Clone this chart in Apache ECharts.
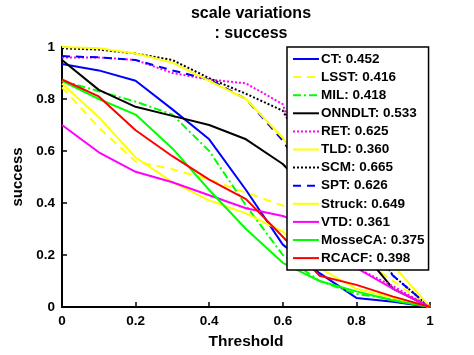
<!DOCTYPE html>
<html>
<head>
<meta charset="utf-8">
<script src="https://cdn.jsdelivr.net/npm/echarts@6/dist/echarts.min.js"></script>
<style>html,body{margin:0;padding:0;background:#fff}#c{width:474px;height:355px}</style>
</head>
<body>
<div id="c"></div>
<script>
const thresholds = [0, 0.1, 0.2, 0.3, 0.4, 0.5, 0.6, 0.7, 0.8, 0.9, 1];
const xTicks = [0, 0.2, 0.4, 0.6, 0.8, 1];
const yTicks = [0, 0.2, 0.4, 0.6, 0.8, 1];
const trackerNames = ['CT: 0.452','LSST: 0.416','MIL: 0.418','ONNDLT: 0.533','RET: 0.625','TLD: 0.360','SCM: 0.665','SPT: 0.626','Struck: 0.649','VTD: 0.361','MosseCA: 0.375','RCACF: 0.398'];
const ct      = [0.935, 0.91, 0.87, 0.76, 0.645, 0.45, 0.24, 0.13, 0.035, 0.02, 0];
const lsst    = [0.845, 0.69, 0.56, 0.53, 0.49, 0.44, 0.39, 0.33, 0.2, 0.1, 0];
const mil     = [0.87, 0.83, 0.79, 0.74, 0.6, 0.39, 0.2, 0.1, 0.05, 0.03, 0];
const onndlt  = [0.95, 0.835, 0.77, 0.735, 0.70, 0.645, 0.55, 0.4, 0.24, 0.07, 0];
const ret     = [0.96, 0.96, 0.95, 0.90, 0.875, 0.86, 0.78, 0.36, 0.15, 0.08, 0];
const tld     = [0.86, 0.73, 0.575, 0.48, 0.41, 0.36, 0.29, 0.15, 0.07, 0.035, 0];
const scm     = [0.995, 0.99, 0.975, 0.95, 0.88, 0.82, 0.755, 0.5, 0.33, 0.12, 0];
const spt     = [0.965, 0.96, 0.95, 0.91, 0.875, 0.80, 0.64, 0.42, 0.25, 0.12, 0];
const struck  = [1.0, 0.995, 0.975, 0.94, 0.87, 0.80, 0.65, 0.45, 0.3, 0.16, 0];
const vtd     = [0.70, 0.595, 0.52, 0.48, 0.43, 0.38, 0.35, 0.3, 0.15, 0.07, 0];
const mosseca = [0.87, 0.80, 0.74, 0.61, 0.45, 0.30, 0.17, 0.1, 0.06, 0.025, 0];
const rcacf   = [0.875, 0.81, 0.68, 0.58, 0.49, 0.415, 0.27, 0.12, 0.085, 0.04, 0];

const seriesValues = [ct, lsst, mil, onndlt, ret, tld, scm, spt, struck, vtd, mosseca, rcacf];
const seriesColors = ['#0000ff','#ffff00','#00ff00','#000000','#ff00ff','#ffff00','#000000','#0000ff','#ffff00','#ff00ff','#00ff00','#ff0000'];
const seriesDash = ['solid',[8,6],[8,3,2,3],'solid',[2,2],'solid',[2,2],[8,6],'solid','solid','solid','solid'];

const FONT = "'Liberation Sans', Arial, sans-serif";

const chart = echarts.init(document.getElementById('c'), null, {renderer: 'canvas'});
const series = trackerNames.map((n, i) => ({
  name: n,
  type: 'line',
  symbol: 'none',
  showSymbol: false,
  data: thresholds.map((t, j) => [t, seriesValues[i][j]]),
  lineStyle: {color: seriesColors[i], width: 2, type: seriesDash[i]},
  itemStyle: {color: seriesColors[i]},
  animation: false
}));

chart.setOption({
  animation: false,
  backgroundColor: '#fff',
  title: {
    text: 'scale variations\n: success',
    left: 246,
    top: -1,
    textAlign: 'center',
    textStyle: {fontFamily: FONT, fontWeight: 'bold', fontSize: 16, lineHeight: 20, color: '#000'}
  },
  grid: {left: 62, right: 44, top: 47, bottom: 46},
  legend: {
    orient: 'vertical',
    left: 287,
    top: 47,
    data: trackerNames,
    backgroundColor: '#fff',
    borderColor: '#000',
    borderWidth: 1.5,
    borderRadius: 0,
    padding: [5, 4, 5, 5],
    itemWidth: 26,
    itemHeight: 14,
    itemGap: 4.1,
    selectedMode: false,
    itemStyle: {opacity: 0, color: 'rgba(0,0,0,0)', borderWidth: 0},
    textStyle: {fontFamily: FONT, fontWeight: 'bold', fontSize: 13.5, lineHeight: 14, color: '#000', padding: [0,0,0,-3]}
  },
  xAxis: {
    type: 'value', min: 0, max: 1, interval: 0.2,
    name: 'Threshold', nameLocation: 'middle', nameGap: 27,
    nameTextStyle: {fontFamily: FONT, fontWeight: 'bold', fontSize: 15.5, color: '#000'},
    axisLine: {show: true, onZero: false, lineStyle: {color: '#000', width: 2}},
    axisTick: {show: true, inside: true, length: 5, lineStyle: {color: '#000', width: 1.5}},
    axisLabel: {fontFamily: FONT, fontWeight: 'bold', fontSize: 13.5, color: '#000', margin: 7,
      formatter: v => String(xTicks.find(t => Math.abs(t - v) < 1e-9) ?? v)},
    splitLine: {show: false}
  },
  yAxis: {
    type: 'value', min: 0, max: 1, interval: 0.2,
    name: 'success', nameLocation: 'middle', nameGap: 34, nameRotate: 90,
    nameTextStyle: {fontFamily: FONT, fontWeight: 'bold', fontSize: 15, color: '#000'},
    axisLine: {show: true, onZero: false, lineStyle: {color: '#000', width: 2}},
    axisTick: {show: true, inside: true, length: 5, lineStyle: {color: '#000', width: 1.5}},
    axisLabel: {fontFamily: FONT, fontWeight: 'bold', fontSize: 13.5, color: '#000', margin: 7,
      formatter: v => String(yTicks.find(t => Math.abs(t - v) < 1e-9) ?? v)},
    splitLine: {show: false}
  },
  series: series
});
</script>
</body>
</html>
